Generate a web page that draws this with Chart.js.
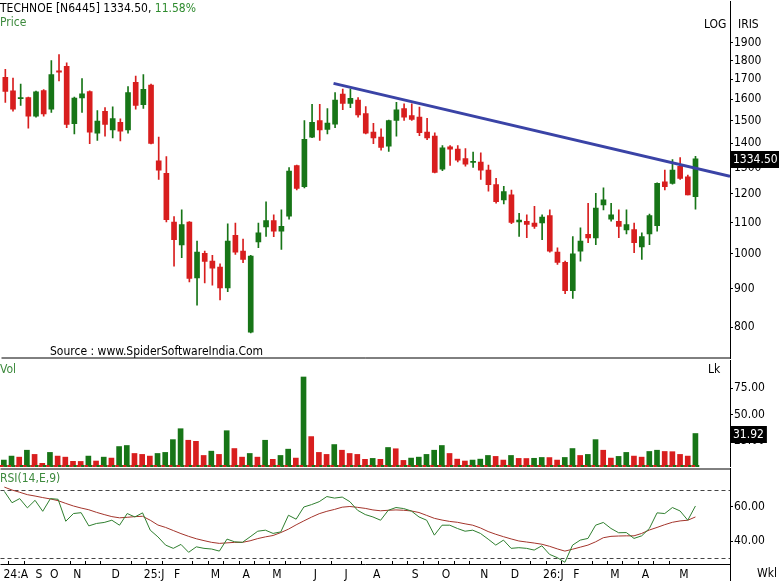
<!DOCTYPE html>
<html>
<head>
<meta charset="utf-8">
<script src="https://cdn.jsdelivr.net/npm/chart.js@4.4.1/dist/chart.umd.min.js"></script>
<style>
body { margin: 0; background: #fff; width: 779px; height: 581px; overflow: hidden; position: relative;
       font-family: 'DejaVu Sans Condensed', 'DejaVu Sans', sans-serif; font-size: 12px; color: #000; }
canvas { position: absolute; left: 0; }
.t { position: absolute; line-height: 14px; white-space: nowrap; }
.g { color: #3d8a3d; }
</style>
</head>
<body>
<canvas id="cPrice" width="779" height="360" style="top:0;width:779px;height:360px"></canvas>
<canvas id="cVol" width="779" height="107" style="top:360px;width:779px;height:107px"></canvas>
<canvas id="cRsi" width="779" height="113" style="top:468px;width:779px;height:113px"></canvas>

<div class="t" style="left:0;top:1px">TECHNOE [N6445] 1334.50, <span style="color:#2e8b2e">11.58%</span></div>
<div class="t g" style="left:0;top:15px">Price</div>
<div class="t" style="left:704px;top:17px">LOG</div>
<div class="t" style="left:738px;top:17px">IRIS</div>
<div class="t" style="left:50px;top:344px">Source : www.SpiderSoftwareIndia.Com</div>
<div class="t g" style="left:0;top:362px">Vol</div>
<div class="t" style="left:708px;top:362px">Lk</div>
<div class="t g" style="left:0;top:471px">RSI(14,E,9)</div>
<div class="t" style="left:757px;top:566px">Wkl</div>

<script>
const FONT = "'DejaVu Sans Condensed', 'DejaVu Sans', sans-serif"
const RED = '#d81e1e'
const GREEN = '#177517'

// weekly candles, Aug 2024 -> May 2026
const openP  = [1710,1642,1603,1608,1520,1643,1553,1745,1768,1485,1607,1638,1443,1542,1457,1491,1457,1684,1574,1670,
                1327,1277,1101,1027,1101,929,1001,978,960,901,1058,1008,788,1037,1085,1106,1071,1121,1308,1226,
                1426,1500,1460,1483,1625,1580,1596,1532,1448,1426,1387,1500,1555,1523,1515,1448,1430,1293,1384,1375,
                1336,1320,1322,1290,1234,1178,1196,1102,1104,1098,1098,1123,1005,974,894,1008,1061,1049,1160,1111,
                1104,1075,1076,1021,1062,1089,1245,1239,1305,1264,1190]
const highP  = [1753,1706,1676,1610,1640,1648,1800,1833,1788,1610,1704,1642,1546,1560,1564,1508,1663,1717,1725,1675,
                1426,1344,1120,1143,1103,1039,1008,995,970,1095,1098,1046,995,1098,1171,1126,1143,1300,1310,1500,
                1576,1576,1555,1633,1650,1650,1608,1565,1487,1462,1502,1585,1578,1578,1562,1510,1445,1390,1390,1390,
                1377,1363,1359,1310,1258,1228,1214,1131,1126,1155,1126,1143,1018,978,1054,1082,1166,1202,1222,1166,
                1143,1143,1098,1066,1128,1241,1290,1332,1340,1270,1345]
const lowP   = [1585,1543,1570,1465,1515,1520,1537,1692,1468,1440,1537,1398,1412,1430,1422,1409,1443,1553,1556,1397,
                1254,1102,963,988,918,855,915,909,869,891,998,973,786,1019,1054,1053,1013,1111,1214,1222,
                1423,1412,1440,1467,1550,1560,1515,1440,1398,1370,1365,1430,1500,1500,1432,1415,1279,1288,1308,1322,
                1305,1300,1254,1210,1166,1164,1096,1054,1050,1080,1044,1005,968,886,873,978,1034,1028,1143,1104,
                1050,1062,1003,983,1028,1071,1214,1236,1254,1196,1145]
const closeP = [1638,1553,1607,1520,1637,1530,1725,1738,1482,1606,1627,1448,1497,1482,1509,1452,1633,1570,1649,1399,
                1290,1109,1044,1093,928,1005,977,957,901,1039,1005,983,993,1066,1106,1071,1087,1286,1220,1416,
                1491,1457,1488,1596,1580,1605,1525,1443,1422,1382,1500,1549,1515,1505,1445,1422,1281,1380,1375,1329,
                1313,1325,1290,1234,1172,1208,1100,1108,1093,1087,1118,1008,974,894,1000,1039,1049,1149,1178,1126,
                1087,1093,1034,1054,1123,1239,1226,1290,1258,1196,1334.5]

// volume in lakh
const volume = [6.6,10.4,9.4,16.0,12.0,3.5,13.9,10.4,9.4,5.4,5.3,10.4,5.7,9.4,8.5,19.5,20.5,12.9,12.0,10.4,
                12.9,13.9,26.1,36.5,25.5,24.5,11.0,15.1,12.0,34.6,17.6,9.4,12.9,9.4,25.5,7.3,11.0,17.0,8.5,85.8,
                29.0,13.9,12.0,21.4,16.0,12.9,12.0,7.3,8.2,7.3,18.6,17.4,6.3,8.5,9.4,12.0,16.0,20.5,12.9,7.5,
                5.7,6.6,7.5,11.0,10.1,6.6,11.0,8.2,8.1,8.3,9.1,9.0,6.6,9.1,17.6,11.0,12.0,26.1,16.0,8.5,
                10.1,13.9,10.4,9.4,14.8,16.0,14.8,14.6,12.0,10.4,31.92]

// RSI(14) and its 9 period average
const rsi = [69.0,62.4,64.8,59.4,63.8,57.4,64.8,64.4,51.6,56.1,56.6,48.9,50.3,50.9,52.2,49.3,56.1,54.1,56.5,46.4,
             42.5,37.7,35.8,38.1,33.5,36.7,35.8,35.4,34.2,41.2,39.6,39.3,42.5,45.8,46.4,44.5,45.4,55.1,52.8,59.9,
             61.3,63.0,66.0,65.1,65.7,63.0,58.0,55.5,54.1,52.2,58.0,59.6,59.0,57.6,54.1,52.2,43.5,49.3,49.3,47.4,
             45.8,46.4,44.5,41.2,37.7,40.6,35.8,36.2,35.8,34.8,37.3,32.3,30.4,27.7,37.7,40.6,41.6,49.3,50.9,47.4,
             44.9,45.0,41.6,43.1,47.4,56.5,56.1,59.6,57.6,52.2,60.5]
const rsiSignal = [71.5,69.8,68.5,67.1,66.3,65.4,64.6,63.6,62.0,60.5,59.3,58.3,56.8,55.5,54.3,53.6,53.9,54.3,54.5,52.2,
                   49.4,48.0,46.2,44.4,42.8,41.4,40.3,39.3,38.7,39.0,39.3,39.3,40.2,41.5,42.5,43.3,45.0,47.0,49.5,51.8,
                   54.0,56.0,57.4,58.5,59.8,60.2,59.7,59.1,58.2,57.7,58.0,58.2,58.0,57.6,56.7,55.0,53.3,52.3,51.5,51.0,
                   50.1,49.3,47.7,45.6,44.0,42.6,41.3,40.1,39.5,38.9,38.2,37.0,35.5,34.2,35.3,36.5,37.7,39.6,42.0,42.8,
                   43.0,43.1,43.1,44.5,46.5,48.0,49.6,51.0,51.8,52.2,54.1]

const priceTicks = [800,900,1000,1100,1200,1300,1400,1500,1600,1700,1800,1900]
const volTicks = [0,25,50,75]
const rsiTicks = [40,60]
const rsiBands = [30,70]

const monthIdx = [2,5,7,10,15,20,23,28,32,36,41,45,49,54,58,63,67,72,75,80,84,89]
const monthTxt = ['24:A','S','O','N','D','25:J','F','M','A','M','J','J','A','S','O','N','D','26:J','F','M','A','M']

// falling trend line (week index, price)
const trendX = [42.8, 94.5]
const trendY = [1679, 1266]

const nSlots = 95

let xLabels = []
for (let i = 0; i < nSlots; i++) xLabels.push('')
monthIdx.forEach((k, j) => { xLabels[k] = monthTxt[j] })

Chart.defaults.font.family = FONT
Chart.defaults.font.size = 12
Chart.defaults.color = '#000'

const candleCol = i => closeP[i] >= openP[i] ? GREEN : RED
const volCol = i => (i === 0 || volume[i] > volume[i - 1]) ? GREEN : RED

// no label overflow padding: panels sit edge to edge
function noPad(s) {
    s.paddingTop = 0
    s.paddingBottom = 0
    s.paddingLeft = 0
    s.paddingRight = 0
}

function rightAxis(extra) {
    return Object.assign({
        position: 'right',
        afterFit: s => { s.width = 49; noPad(s) },
        grid: { drawOnChartArea: false, drawTicks: true, tickLength: 3, tickColor: '#000' },
        border: { color: '#000', width: 1 },
        ticks: { padding: 1, color: '#000', autoSkip: false, font: { size: 12 } }
    }, extra)
}

// black separators, and axis line running down to the bottom
const frameLine = {
    id: 'frameLine',
    afterDraw(chart, args, opts) {
        const { ctx, chartArea: a } = chart
        ctx.save()
        ctx.strokeStyle = '#000'
        ctx.lineWidth = 1
        ctx.beginPath()
        if (opts.top) { ctx.moveTo(a.left, a.top + 0.5); ctx.lineTo(a.right, a.top + 0.5) }
        if (opts.bottom) { ctx.moveTo(a.left, a.bottom - 0.5); ctx.lineTo(a.right, a.bottom - 0.5) }
        if (opts.axisDown) { ctx.moveTo(a.right + 0.5, a.bottom); ctx.lineTo(a.right + 0.5, chart.height) }
        ctx.stroke()
        ctx.restore()
    }
}

// black box with the last value on the right axis
const valueBox = {
    id: 'valueBox',
    afterDraw(chart, args, opts) {
        if (!opts.text) return
        const { ctx } = chart
        const s = chart.scales.y
        const y = Math.round(s.getPixelForValue(opts.value))
        ctx.save()
        ctx.font = '12px ' + FONT
        const w = ctx.measureText(opts.text).width + 5
        ctx.fillStyle = '#000'
        ctx.fillRect(s.left + 1, y - 8, w, 17)
        ctx.fillStyle = '#fff'
        ctx.textBaseline = 'middle'
        ctx.fillText(opts.text, s.left + 3, y + 1)
        ctx.restore()
    }
}

// red / green dashes along the volume base
const baseDash = {
    id: 'baseDash',
    afterDatasetsDraw(chart, args, opts) {
        if (!opts.on) return
        const { ctx, chartArea: a } = chart
        const xs = chart.scales.x
        const half = (a.right - a.left) / nSlots / 2
        const y = a.bottom - 1
        ctx.save()
        ctx.lineWidth = 2
        volume.forEach((v, i) => {
            const x = xs.getPixelForValue(i)
            ctx.strokeStyle = RED
            ctx.beginPath(); ctx.moveTo(x - half, y); ctx.lineTo(x - 0.5, y); ctx.stroke()
            ctx.strokeStyle = GREEN
            ctx.beginPath(); ctx.moveTo(x + 0.5, y); ctx.lineTo(x + half, y); ctx.stroke()
        })
        ctx.restore()
    }
}

// RSI 30/70 dashed levels and small week marks on the base line
const rsiDeco = {
    id: 'rsiDeco',
    beforeDatasetsDraw(chart, args, opts) {
        if (!opts.on) return
        const { ctx, chartArea: a } = chart
        const ys = chart.scales.y
        const xs = chart.scales.x
        ctx.save()
        ctx.strokeStyle = '#444'
        ctx.lineWidth = 1
        ctx.setLineDash([4, 3])
        rsiBands.forEach(v => {
            const y = Math.round(ys.getPixelForValue(v)) + 0.5
            ctx.beginPath(); ctx.moveTo(a.left, y); ctx.lineTo(a.right, y); ctx.stroke()
        })
        ctx.setLineDash([])
        const half = (a.right - a.left) / nSlots / 2
        ctx.strokeStyle = '#000'
        for (let i = 1; i < rsi.length; i += 2) {
            if (xLabels[i]) continue
            const x = Math.round(xs.getPixelForValue(i) - half) + 0.5
            ctx.beginPath(); ctx.moveTo(x, a.bottom - 4); ctx.lineTo(x, a.bottom); ctx.stroke()
        }
        ctx.restore()
    }
}

const common = {
    responsive: false,
    animation: false,
    devicePixelRatio: 1,
    layout: { padding: 0 },
    events: []
}

// price panel
new Chart(document.getElementById('cPrice'), {
    type: 'bar',
    data: {
        labels: xLabels,
        datasets: [
            {
                label: 'wick',
                data: lowP.map((l, i) => [l, highP[i]]),
                backgroundColor: c => candleCol(c.dataIndex),
                barThickness: 1,
                grouped: false,
                order: 2
            },
            {
                label: 'body',
                data: openP.map((o, i) => [o, closeP[i]]),
                backgroundColor: c => candleCol(c.dataIndex),
                barThickness: 5,
                minBarLength: 1,
                grouped: false,
                order: 1
            },
            {
                type: 'line',
                label: 'trend',
                data: trendX.map((x, i) => ({ x: x, y: trendY[i] })),
                xAxisID: 'x2',
                borderColor: '#3a43a6',
                borderWidth: 3,
                pointRadius: 0,
                order: 0
            }
        ]
    },
    options: Object.assign({}, common, {
        plugins: {
            legend: { display: false },
            tooltip: { enabled: false },
            frameLine: { bottom: true },
            valueBox: { value: closeP[closeP.length - 1], text: closeP[closeP.length - 1].toFixed(2) }
        },
        scales: {
            x: { display: false, offset: true },
            x2: { type: 'linear', display: false, offset: false, min: -0.5, max: nSlots - 0.5 },
            y: rightAxis({
                type: 'logarithmic',
                min: 727.2,
                max: 2154,
                afterBuildTicks: s => { s.ticks = priceTicks.map(v => ({ value: v })) }
            })
        }
    }),
    plugins: [frameLine, valueBox]
})
// give the price axis plain labels
Chart.getChart('cPrice').options.scales.y.ticks.callback = v => String(v)
Chart.getChart('cPrice').update()

// volume panel
new Chart(document.getElementById('cVol'), {
    type: 'bar',
    data: {
        labels: xLabels,
        datasets: [{
            label: 'Vol',
            data: volume,
            backgroundColor: c => volCol(c.dataIndex),
            barThickness: 5
        }]
    },
    options: Object.assign({}, common, {
        plugins: {
            legend: { display: false },
            tooltip: { enabled: false },
            baseDash: { on: true },
            valueBox: { value: volume[volume.length - 1], text: volume[volume.length - 1].toFixed(2) }
        },
        scales: {
            x: { display: false, offset: true },
            y: rightAxis({
                min: 0,
                max: 102,
                afterBuildTicks: s => { s.ticks = volTicks.map(v => ({ value: v })) }
            })
        }
    }),
    plugins: [baseDash, valueBox]
})
Chart.getChart('cVol').options.scales.y.ticks.callback = v => v ? v.toFixed(2) : ''
Chart.getChart('cVol').update()

// RSI panel with the month axis
new Chart(document.getElementById('cRsi'), {
    type: 'line',
    data: {
        labels: xLabels,
        datasets: [
            { label: 'RSI', data: rsi, borderColor: '#2f7f2f', borderWidth: 1, pointRadius: 0 },
            { label: 'Signal', data: rsiSignal, borderColor: '#a3342b', borderWidth: 1, pointRadius: 0 }
        ]
    },
    options: Object.assign({}, common, {
        plugins: {
            legend: { display: false },
            tooltip: { enabled: false },
            frameLine: { top: true, bottom: true, axisDown: true },
            rsiDeco: { on: true }
        },
        scales: {
            x: {
                type: 'category',
                offset: true,
                afterFit: s => { s.height = 16; noPad(s) },
                grid: { display: false, offset: true },
                border: { display: false },
                ticks: { autoSkip: false, maxRotation: 0, minRotation: 0, padding: -5,
                         labelOffset: -730 / nSlots / 2, color: '#000', font: { size: 12 } }
            },
            y: rightAxis({
                min: 26.1,
                max: 82.35,
                afterBuildTicks: s => { s.ticks = rsiTicks.map(v => ({ value: v })) }
            })
        }
    }),
    plugins: [frameLine, rsiDeco]
})
Chart.getChart('cRsi').options.scales.y.ticks.callback = v => v.toFixed(2)
Chart.getChart('cRsi').update()
</script>
</body>
</html>
